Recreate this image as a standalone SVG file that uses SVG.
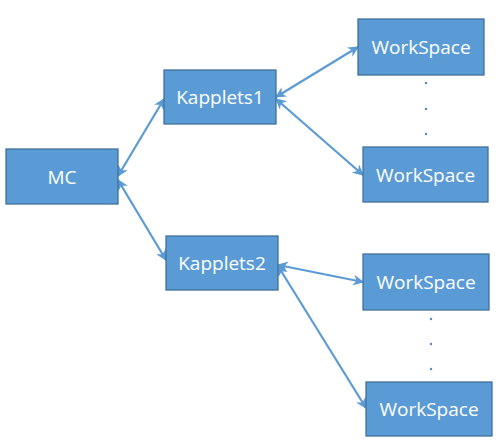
<svg xmlns="http://www.w3.org/2000/svg" width="500" height="445" viewBox="0 0 500 445">
<style>
.box{fill:#5B9BD5;stroke:#41719C;stroke-width:1.3}
.lbl{fill:#FFFFFF;font-family:"Open Sans","Liberation Sans",sans-serif;font-size:19px;text-anchor:middle;dominant-baseline:central}
.conn{stroke:#5B9BD5;stroke-width:2.2;fill:none;marker-start:url(#ah);marker-end:url(#ah)}
.dot{fill:#4A8CCB}
</style>
<defs>
<marker id="ah" viewBox="0 0 10 10" refX="9" refY="5" markerWidth="5" markerHeight="5" orient="auto-start-reverse" markerUnits="strokeWidth">
<path d="M0,0 L10,5 L0,10 L3,5 Z" fill="#5B9BD5"/>
</marker>
</defs>
<g id="connectors">
<line class="conn" x1="118" y1="176" x2="164" y2="99"/>
<line class="conn" x1="118" y1="180" x2="166" y2="260"/>
<line class="conn" x1="276" y1="97" x2="358" y2="47"/>
<line class="conn" x1="276" y1="99" x2="363" y2="175"/>
<line class="conn" x1="278" y1="265" x2="363" y2="282"/>
<line class="conn" x1="278" y1="266" x2="366" y2="408"/>
</g>
<g id="mc"><rect class="box" x="6" y="149" width="112" height="55"/><text class="lbl" x="62" y="177">MC</text></g>
<g id="kapplets1"><rect class="box" x="164" y="70" width="112" height="54"/><text class="lbl" x="220" y="97">Kapplets1</text></g>
<g id="kapplets2"><rect class="box" x="166" y="236" width="112" height="54"/><text class="lbl" x="222" y="263">Kapplets2</text></g>
<g id="ws1"><rect class="box" x="358" y="19" width="126" height="56"/><text class="lbl" x="421" y="47">WorkSpace</text></g>
<g id="ws2"><rect class="box" x="363" y="147" width="125" height="55"/><text class="lbl" x="425.5" y="175">WorkSpace</text></g>
<g id="ws3"><rect class="box" x="363" y="254" width="126" height="56"/><text class="lbl" x="426" y="282">WorkSpace</text></g>
<g id="ws4"><rect class="box" x="366" y="382" width="126" height="54"/><text class="lbl" x="429" y="409">WorkSpace</text></g>
<g id="dots1"><circle class="dot" cx="426" cy="83" r="1.2"/><circle class="dot" cx="426" cy="109" r="1.2"/><circle class="dot" cx="426" cy="134" r="1.2"/></g>
<g id="dots2"><circle class="dot" cx="431" cy="319" r="1.2"/><circle class="dot" cx="431" cy="344" r="1.2"/><circle class="dot" cx="431" cy="369" r="1.2"/></g>
</svg>
